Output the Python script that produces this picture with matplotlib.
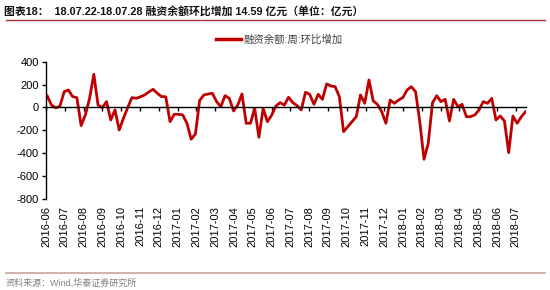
import matplotlib
matplotlib.use('Agg')
import matplotlib.pyplot as plt
from matplotlib.lines import Line2D
import numpy as np

plt.rcParams['font.family'] = ['Liberation Sans', 'Noto Sans CJK SC', 'DejaVu Sans']

title = "图表18：  18.07.22-18.07.28 融资余额环比增加 14.59 亿元（单位：亿元）"
series_name = "融资余额:周:环比增加"
source = "资料来源：Wind,华泰证券研究所"

month_labels = ['2016-06', '2016-07', '2016-08', '2016-09', '2016-10', '2016-11', '2016-12',
                '2017-01', '2017-02', '2017-03', '2017-04', '2017-05', '2017-06', '2017-07',
                '2017-08', '2017-09', '2017-10', '2017-11', '2017-12', '2018-01', '2018-02',
                '2018-03', '2018-04', '2018-05', '2018-06', '2018-07']

values = [100, 20, -5, 10, 137, 152, 94, 85, -160, -67,
          79, 290, 20, -3, 50, -111, -23, -199, -96, -3,
          85, 79, 92, 108, 135, 158, 123, 94, 92, -126,
          -61, -61, -67, -140, -280, -234, 60, 108, 117, 123,
          50, 6, 102, 79, -32, 20, 117, -140, -140, -9,
          -263, -9, -126, -70, 10, 41, 20, 88, 41, 15,
          -23, 132, 114, 26, 114, 70, 205, 187, 181, 94,
          -213, -170, -126, -82, 108, 35, 240, 56, 26, -38,
          -140, 64, 35, 64, 85, 152, 181, 137, -126, -456,
          -316, 40, 102, 50, 70, -120, 70, 6, 26, -82,
          -82, -67, -23, 50, 35, 79, -111, -76, -120, -398,
          -76, -140, -82, -38]

yticks = [400, 200, 0, -200, -400, -600, -800]

fig = plt.figure(figsize=(5.5, 2.9), dpi=100)
ax = fig.add_axes([0.0836, 0.3155, 0.8736, 0.4717])

for s in ['top', 'right']:
    ax.spines[s].set_visible(False)
ax.spines['bottom'].set_position(('data', 0))
ax.spines['bottom'].set_color('black')
ax.spines['bottom'].set_linewidth(1.0)
ax.spines['left'].set_linewidth(1.0)

x = np.arange(len(values))
line, = ax.plot(x, values, color='#C00000', lw=2.0, solid_joinstyle='round')

ax.set_ylim(-800, 400)
ax.set_xlim(-0.3, len(values) - 0.8)
ax.set_yticks(yticks)
ax.set_yticklabels([str(v) for v in yticks], fontsize=8, color='#000000')

tick_step = 4.44
ax.set_xticks([-0.3 + i * tick_step for i in range(len(month_labels))])
ax.set_xticklabels(month_labels, rotation=90, fontsize=8, va='top', ha='center')

ax.tick_params(axis='y', direction='out', length=3, width=1, pad=2)
ax.tick_params(axis='x', direction='out', length=3, width=1, pad=68)

# Title and rules
fig.text(0.008, 0.963, title, fontsize=7.8, fontweight='bold', ha='left', va='center', color='#111111')
fig.add_artist(Line2D([0.01, 0.99], [0.93, 0.93], color='#A83232', lw=1.0))
fig.add_artist(Line2D([0.01, 0.99], [0.058, 0.058], color='#C9A39C', lw=1.2))
fig.text(0.01, 0.022, source, fontsize=6.5, color='#808080', ha='left', va='center')

# Legend
fig.add_artist(Line2D([0.392, 0.438], [0.864, 0.864], color='#C00000', lw=2.5))
fig.text(0.442, 0.864, series_name, fontsize=7.5, color='#404040', ha='left', va='center')

fig.savefig('out.png', dpi=100)
